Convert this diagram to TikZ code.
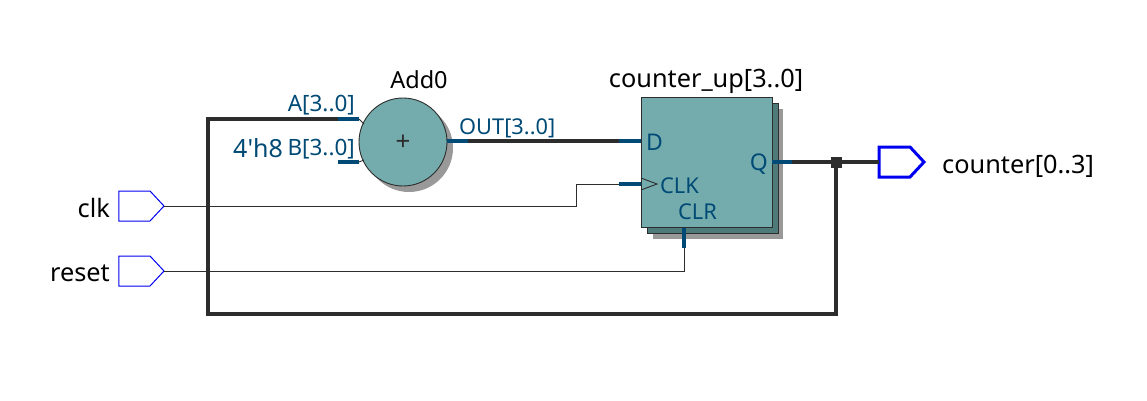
\documentclass[tikz,border=0pt]{standalone}
\usepackage{fontspec}
\setmainfont{Noto Sans}
\usetikzlibrary{shapes.symbols}
\definecolor{blockfill}{HTML}{74ACAD}
\definecolor{blockback}{HTML}{4E7A7A}
\definecolor{shadowgrey}{HTML}{999999}
\definecolor{portblue}{HTML}{004A75}
\definecolor{wiregrey}{HTML}{2D2D2D}
\definecolor{pinblue}{HTML}{0000F0}
\begin{document}
\begin{tikzpicture}[x=1pt,y=-1pt]
      % Define styles for nodes
      \tikzstyle{pinshape} = [draw=pinblue, fill=white, signal, signal to=east,
      signal pointer angle=94, inner sep=0pt, outer sep=0pt, line width=1pt,
      minimum width=45pt, minimum height=30pt]
      \tikzstyle{blockbox} = [draw=wiregrey, fill=blockfill, rectangle, inner sep=0pt,
      outer sep=0pt, line width=.9pt, minimum width=131pt, minimum height=130pt]
      \tikzstyle{partname} = [inner sep=0pt, text=black, font=\fontsize{25.3}{25.3}\selectfont]
      \tikzstyle{portname} = [inner sep=0pt, text=portblue, font=\fontsize{21.8}{21.8}\selectfont]
      \tikzstyle{busline} = [line width=3.6pt, wiregrey]
      \tikzstyle{stubline} = [line width=3.6pt, portblue]
      \tikzstyle{thinline} = [line width=.9pt, wiregrey]

      \useasboundingbox (0,0) rectangle (1147,400);

      % Adder with its shadow
      \fill[shadowgrey] (409,148) circle (44);
      \node[draw=wiregrey, fill=blockfill, circle, inner sep=0pt, outer sep=0pt,
      line width=.9pt, minimum size=88pt] (adder) at (403,142) {};
      \node[inner sep=0pt, text=wiregrey, font=\fontsize{26}{26}\selectfont] (plus) at (403,143) {+};

      % Counter, two boxes and a shadow
      \fill[shadowgrey] (653,109) rectangle (783,239);
      \node[blockbox, fill=blockback] (counterback) at (712.5,168) {};
      \node[blockbox] (counterbox) at (706.5,162) {};
      \draw[thinline] (641,178) -- (657,184) -- (641,190);

      % Wire ends
      \coordinate (astub) at (338,119);
      \coordinate (aport) at (359,119);
      \coordinate (bstub) at (338,162);
      \coordinate (bport) at (359,162);
      \coordinate (outport) at (447,141);
      \coordinate (outstub) at (468,141);
      \coordinate (dstub) at (619,141);
      \coordinate (dport) at (641,141);
      \coordinate (clkstub) at (619,184);
      \coordinate (clkport) at (641,184);
      \coordinate (clrstub) at (684,248);
      \coordinate (clrport) at (684,228);
      \coordinate (qport) at (772,162);
      \coordinate (qstub) at (792,162);

      % Pins
      \node[pinshape] (clkpin) at (134.5,206) {};
      \node[pinshape] (resetpin) at (134.5,271) {};
      \node[pinshape, line width=3pt] (counterpin) at (894.5,162) {};
      \node[draw=wiregrey, fill=wiregrey, rectangle, inner sep=0pt,
      minimum size=10pt] (junction) at (836,162) {};

      % Connections
      \draw[busline] (outstub) -- (dstub);
      \draw[busline] (qstub) -- (counterpin.west);
      \draw[busline, line join=miter] (junction.center) -- (836,314) -- (208,314) -- (208,119) -- (astub);
      \draw[thinline] (clkpin.east) -- (576,206) -- (576,184) -- (clkstub);
      \draw[thinline] (resetpin.east) -- (684,271) -- (clrstub);
      \draw[thinline] (aport) -- (364,124);
      \draw[thinline] (bport) -- (364,160);

      % Stubs
      \draw[stubline] (astub) -- (aport);
      \draw[stubline] (bstub) -- (bport);
      \draw[stubline] (outport) -- (outstub);
      \draw[stubline] (dstub) -- (dport);
      \draw[stubline] (clkstub) -- (clkport);
      \draw[stubline] (clrstub) -- (clrport);
      \draw[stubline] (qport) -- (qstub);

      % Names
      \node[partname, font=\fontsize{23.5}{23.5}\selectfont] (addname) at (419,80) {Add0};
      \node[partname] (countername) at (706,81) {counter\_up[3..0]};
      \node[partname, anchor=east] (clkname) at (110,208) {clk};
      \node[partname, anchor=east] (resetname) at (110,273) {reset};
      \node[partname, anchor=west] (outname) at (942,166) {counter[0..3]};

      % Port labels
      \node[portname, anchor=east, font=\fontsize{22.5}{22.5}\selectfont] (alabel) at (355,105) {A[3..0]};
      \node[portname, anchor=east, font=\fontsize{22.5}{22.5}\selectfont] (blabel) at (355,149) {B[3..0]};
      \node[portname, anchor=west, font=\fontsize{25}{25}\selectfont] (constlabel) at (233,148) {4\textquotesingle h8};
      \node[portname, anchor=west] (outlabel) at (459,128) {OUT[3..0]};
      \node[portname, anchor=west, font=\fontsize{23}{23}\selectfont] (dlabel) at (646,142) {D};
      \node[portname, anchor=west] (clklabel) at (660,186) {CLK};
      \node[portname, anchor=west] (clrlabel) at (678,212) {CLR};
      \node[portname, anchor=east, font=\fontsize{23}{23}\selectfont] (qlabel) at (768,164) {Q};
    \end{tikzpicture}
\end{document}
